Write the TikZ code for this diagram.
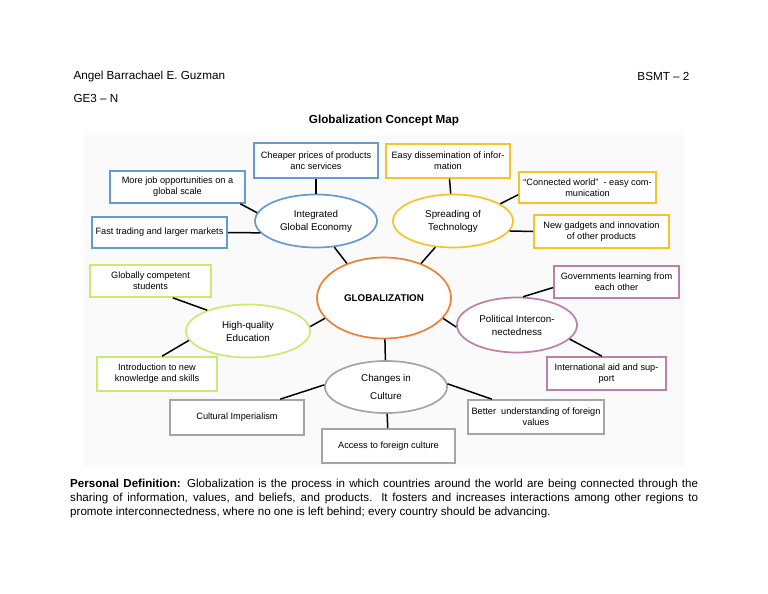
\documentclass[tikz,border=0pt]{standalone}
\usepackage{fontspec}
\setmainfont{Liberation Sans}
\usetikzlibrary{shapes.geometric}
\definecolor{econblue}{RGB}{100,155,210}
\definecolor{techyellow}{RGB}{246,196,40}
\definecolor{edugreen}{RGB}{200,236,110}
\definecolor{polpink}{RGB}{190,128,168}
\definecolor{cultgray}{RGB}{165,165,165}
\definecolor{globorange}{RGB}{236,128,52}
\tikzset{
  box/.style={draw=#1, line width=1.7pt, fill=white, align=center, inner sep=2pt,
    font=\fontsize{9.2}{11}\selectfont},
  bubble/.style={ellipse, draw=#1, line width=1.7pt, fill=white, align=center, inner sep=0pt,
    font=\fontsize{9.8}{13}\selectfont},
  link/.style={line width=1.5pt}
}
\begin{document}
\begin{tikzpicture}[x=1pt,y=-1pt]
\useasboundingbox (0,0) rectangle (768,594);
\fill[black!2] (83,135) rectangle (685,467);
\begin{scope}[font=\fontsize{11.7}{14}\selectfont]
\node[anchor=west] (author) at (70,76) {Angel Barrachael E. Guzman};
\node[anchor=east] (course) at (693,76) {BSMT – 2};
\node[anchor=west] (section) at (70,98) {GE3 – N};
\node[font=\fontsize{11.7}{14}\selectfont\bfseries] (title) at (384,120) {Globalization Concept Map};
\end{scope}
% hubs
\node[bubble=globorange, minimum width=134pt, minimum height=81pt, font=\fontsize{9.8}{13}\selectfont\bfseries] (glob) at (384,298) {GLOBALIZATION};
\node[bubble=econblue, minimum width=122pt, minimum height=53pt] (econ) at (316,221) {Integrated\\Global Economy};
\node[bubble=techyellow, minimum width=120pt, minimum height=53pt] (tech) at (453,221) {Spreading of\\Technology};
\node[bubble=edugreen, minimum width=124pt, minimum height=53pt] (edu) at (248,331) {High-quality\\Education};
\node[bubble=polpink, minimum width=120pt, minimum height=55pt] (pol) at (517,325) {Political Intercon-\\nectedness};
\node[bubble=cultgray, minimum width=122pt, minimum height=52pt] (cult) at (386,387) {Changes in\\[5pt]Culture};
% leaves
\node[box=econblue, minimum width=124pt, minimum height=35pt] (cheap) at (316,160.5) {Cheaper prices of products\\anc services};
\node[box=econblue, minimum width=135pt, minimum height=32pt] (jobs) at (177.5,187) {More job opportunities on a\\global scale};
\node[box=econblue, minimum width=135pt, minimum height=31pt] (trade) at (159.5,232.5) {Fast trading and larger markets};
\node[box=techyellow, minimum width=124pt, minimum height=34pt] (dissem) at (448,161) {Easy dissemination of infor-\\mation};
\node[box=techyellow, minimum width=137pt, minimum height=31pt] (connect) at (587.5,187.5) {“Connected world”\ \ - easy com-\\munication};
\node[box=techyellow, minimum width=135pt, minimum height=33pt] (gadget) at (601.5,231.5) {New gadgets and innovation\\of other products};
\node[box=edugreen, minimum width=121pt, minimum height=32pt] (compet) at (150.5,281) {Globally competent\\students};
\node[box=edugreen, minimum width=120pt, minimum height=34pt] (intro) at (157,374) {Introduction to new\\knowledge and skills};
\node[box=polpink, minimum width=125pt, minimum height=32pt] (govern) at (616.5,282) {Governments learning from\\each other};
\node[box=polpink, minimum width=119pt, minimum height=33pt] (aid) at (606.5,373.5) {International aid and sup-\\port};
\node[box=cultgray, minimum width=134pt, minimum height=35pt] (imper) at (237,417.5) {Cultural Imperialism};
\node[box=cultgray, minimum width=133pt, minimum height=34pt] (access) at (388.5,446) {Access to foreign culture};
\node[box=cultgray, minimum width=136pt, minimum height=34pt] (better) at (536,417) {Better\ \ understanding of foreign\\values};
% links
\foreach \p/\q in {cheap/econ, jobs.-15/econ.172, trade.east/econ.192,
    dissem/tech, connect.186/tech.20, gadget.west/tech.-10,
    compet.-37/edu.153, edu.189/intro.74, govern.185/pol.78, pol.-15/aid.105,
    cult.178/imper.23, cult/access, cult.3/better.158,
    glob.137/econ.-55, glob.43/tech.236, glob.199/edu.4, glob.-19/pol.182, glob/cult}
  \draw[link] (\p) -- (\q);
\node[anchor=north west, align=left, inner sep=0pt, font=\fontsize{11.6}{14}\selectfont] (defn) at (70,479)
  {\makebox[628pt][s]{\textbf{Personal Definition:} Globalization is the process in which countries around the world are being connected through the}\\
   \makebox[628pt][s]{sharing of information, values, and beliefs, and products. It fosters and increases interactions among other regions to}\\
   promote interconnectedness, where no one is left behind; every country should be advancing.};
\end{tikzpicture}
\end{document}
